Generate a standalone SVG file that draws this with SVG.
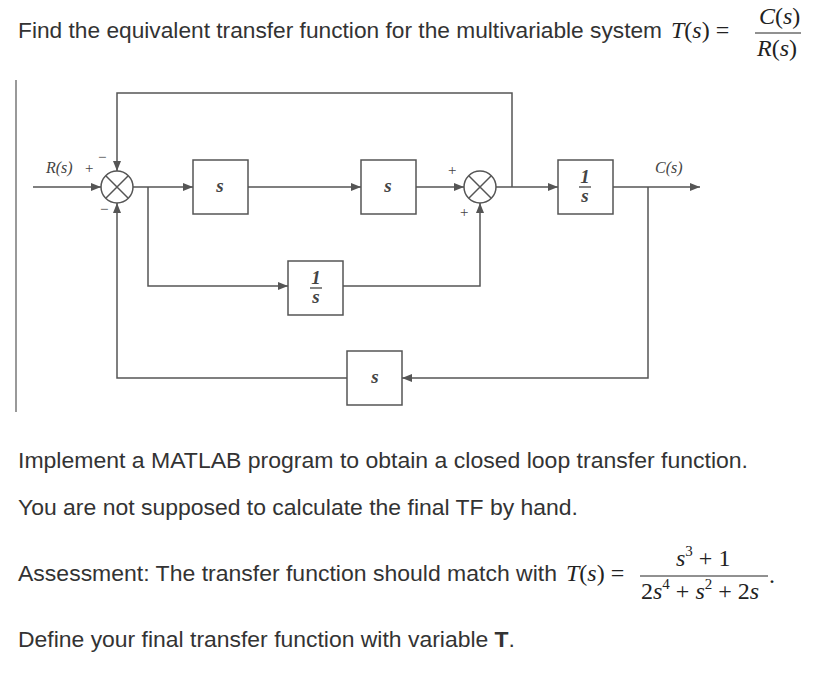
<svg xmlns="http://www.w3.org/2000/svg" width="818" height="696" viewBox="0 0 818 696">
<style>
.t{font-family:"Liberation Sans",Arial,sans-serif;font-size:22px;fill:#333}
.m{font-family:"Liberation Serif","Times New Roman",serif;font-size:24px;fill:#222;font-style:italic}
.mr{font-family:"Liberation Serif","Times New Roman",serif;font-size:24px;fill:#222}
.b{fill:#fff;stroke:#555;stroke-width:1.5}
.l{fill:none;stroke:#555;stroke-width:1.5}
.d{font-family:"Liberation Serif","Times New Roman",serif;font-size:15px;fill:#444}
.di{font-family:"Liberation Serif","Times New Roman",serif;font-size:16px;fill:#444;font-style:italic}
.bs{font-family:"Liberation Serif","Times New Roman",serif;font-size:19px;fill:#444;font-style:italic;font-weight:bold}
</style>
<defs><marker id="a" markerWidth="10" markerHeight="8" refX="10" refY="4" orient="auto" markerUnits="userSpaceOnUse"><path d="M0,0 L10,4 L0,8 Z" fill="#555"/></marker></defs>
<rect width="818" height="696" fill="#fff"/>
<text class="t" x="18" y="38" textLength="644" lengthAdjust="spacingAndGlyphs">Find the equivalent transfer function for the multivariable system</text>
<text class="m" x="671" y="38">T<tspan font-style="normal">(</tspan>s<tspan font-style="normal">) =</tspan></text>
<text class="m" x="759" y="24">C<tspan font-style="normal">(</tspan>s<tspan font-style="normal">)</tspan></text>
<line x1="755" y1="33" x2="801" y2="33" stroke="#222" stroke-width="1"/>
<text class="m" x="757" y="56">R<tspan font-style="normal">(</tspan>s<tspan font-style="normal">)</tspan></text>
<line x1="16" y1="80" x2="16" y2="412" stroke="#777" stroke-width="1.5"/>
<g id="connectors">
<path class="l" d="M33,187 H101" marker-end="url(#a)"/>
<path class="l" d="M133,187 H193" marker-end="url(#a)"/>
<path class="l" d="M248,187 H361" marker-end="url(#a)"/>
<path class="l" d="M416,187 H464" marker-end="url(#a)"/>
<path class="l" d="M496,187 H558" marker-end="url(#a)"/>
<path class="l" d="M613,187 H700" marker-end="url(#a)"/>
<path class="l" d="M148,187 V286 H288" marker-end="url(#a)"/>
<path class="l" d="M343,286 H480 V203" marker-end="url(#a)"/>
<path class="l" d="M512,187 V93 H117 V171" marker-end="url(#a)"/>
<path class="l" d="M648,187 V378 H402" marker-end="url(#a)"/>
<path class="l" d="M347,378 H117 V203" marker-end="url(#a)"/>
</g>
<g id="sum1"><circle class="b" cx="117" cy="187" r="16"/><path class="l" d="M106,176 L128,198 M128,176 L106,198"/>
<text class="di" x="46" y="173">R(s)</text><text class="d" x="85" y="173">+</text><text class="d" x="98" y="162">−</text><text class="d" x="100" y="214">−</text></g>
<g id="sum2"><circle class="b" cx="480" cy="187" r="16"/><path class="l" d="M469,176 L491,198 M491,176 L469,198"/>
<text class="d" x="448" y="175">+</text><text class="d" x="460" y="217">+</text></g>
<g id="b1"><rect class="b" x="193" y="160" width="55" height="54"/><text class="bs" x="220" y="192" text-anchor="middle">s</text></g>
<g id="b2"><rect class="b" x="361" y="160" width="55" height="54"/><text class="bs" x="388" y="192" text-anchor="middle">s</text></g>
<g id="b3"><rect class="b" x="558" y="160" width="55" height="54"/><text class="bs" x="585" y="183" text-anchor="middle" font-style="normal">1</text><line x1="579" y1="187" x2="591" y2="187" stroke="#444" stroke-width="1.3"/><text class="bs" x="585" y="202" text-anchor="middle">s</text></g>
<g id="b4"><rect class="b" x="288" y="261" width="55" height="54"/><text class="bs" x="316" y="284" text-anchor="middle" font-style="normal">1</text><line x1="310" y1="288" x2="322" y2="288" stroke="#444" stroke-width="1.3"/><text class="bs" x="316" y="303" text-anchor="middle">s</text></g>
<g id="b5"><rect class="b" x="347" y="351" width="55" height="54"/><text class="bs" x="375" y="383" text-anchor="middle">s</text></g>
<text class="di" x="655" y="173">C(s)</text>
<text class="t" x="18" y="468" textLength="730" lengthAdjust="spacingAndGlyphs">Implement a MATLAB program to obtain a closed loop transfer function.</text>
<text class="t" x="18" y="515" textLength="560" lengthAdjust="spacingAndGlyphs">You are not supposed to calculate the final TF by hand.</text>
<text class="t" x="18" y="581" textLength="539" lengthAdjust="spacingAndGlyphs">Assessment: The transfer function should match with</text>
<text class="m" x="566" y="581">T<tspan font-style="normal">(</tspan>s<tspan font-style="normal">) =</tspan></text>
<text class="m" x="676" y="566">s<tspan font-size="15" dy="-10" font-style="normal">3</tspan><tspan dy="10" font-style="normal"> + 1</tspan></text>
<line x1="640" y1="576" x2="768" y2="576" stroke="#222" stroke-width="1"/>
<text class="mr" x="641" y="599">2<tspan font-style="italic">s</tspan><tspan font-size="15" dy="-10">4</tspan><tspan dy="10"> + </tspan><tspan font-style="italic">s</tspan><tspan font-size="15" dy="-10">2</tspan><tspan dy="10"> + 2</tspan><tspan font-style="italic">s</tspan></text>
<text class="mr" x="769" y="583">.</text>
<text class="t" x="18" y="647" textLength="497" lengthAdjust="spacingAndGlyphs">Define your final transfer function with variable <tspan font-weight="bold">T</tspan>.</text>
</svg>
